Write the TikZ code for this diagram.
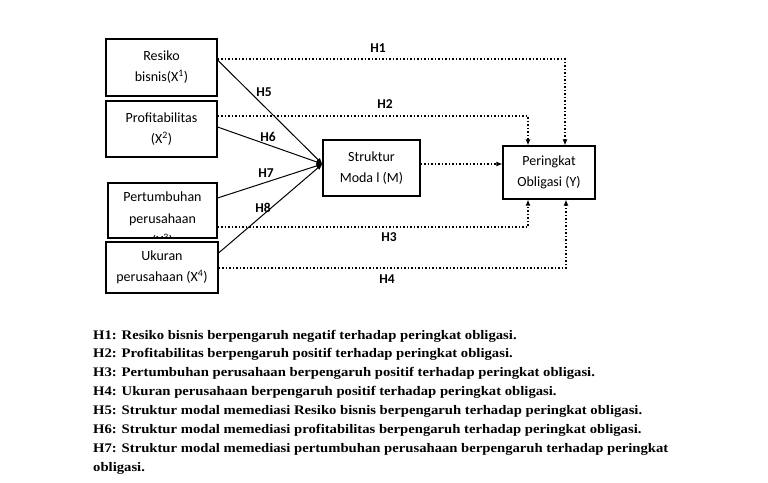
\documentclass[tikz,border=0pt]{standalone}
\usepackage{fontspec}
\setmainfont{Carlito}
\newfontfamily\capfont[FakeStretch=1.12]{Liberation Serif}
\usetikzlibrary{arrows.meta,calc}
\begin{document}
\begin{tikzpicture}[x=1pt,y=-1pt,
  box/.style={draw,line width=1.1pt,inner sep=0pt,align=center,font=\fontsize{14}{21}\selectfont},
  sline/.style={line width=1pt},
  dline/.style={line width=1.5pt,dotted},
  tip/.style={-{Latex[length=6pt,width=5pt]}},
  hlab/.style={font=\fontsize{13.5}{15}\selectfont\bfseries},
  captxt/.style={anchor=base west,inner sep=0pt,font=\capfont\bfseries\fontsize{13.1}{15}\selectfont}]
\useasboundingbox (0,0) rectangle (768,482);
% boxes
\node[box,minimum width=111pt,minimum height=57pt] (r1) at (161.5,67.5) {Resiko\\bisnis(X\textsuperscript{1})};
\node[box,minimum width=111pt,minimum height=56pt] (r2) at (161.5,129) {Profitabilitas\\(X\textsuperscript{2})};
\node[box,minimum width=109pt,minimum height=55pt] (r3) at (162.5,210.5) {};
\begin{scope}
\clip (r3.north west) rectangle (r3.south east);
\node[align=center,inner sep=0pt,font=\fontsize{14}{22}\selectfont,anchor=north] (r3t) at (162.5,192) {Pertumbuhan\\perusahaan\\(X\textsuperscript{3})};
\end{scope}
\node[box,minimum width=112pt,minimum height=51pt] (r4) at (162,267.5) {Ukuran\\perusahaan (X\textsuperscript{4})};
\node[box,minimum width=97pt,minimum height=56pt] (sm) at (371.5,168) {Struktur\\Moda l (M)};
\node[box,minimum width=92pt,minimum height=53pt] (py) at (549,172.5) {Peringkat\\Obligasi (Y)};
% convergence point
\coordinate (cp) at (sm.west |- 0,164);
\draw[sline,tip] (r1.east |- 0,60) -- (cp);
\draw[sline,tip] (r2.east |- 0,127) -- (cp);
\draw[sline,tip] (r3.east |- 0,198) -- (cp);
\draw[sline,tip] (r4.east |- 0,253) -- (cp);
% dotted paths
\draw[dline,tip] (r1.east |- 0,59) -| (py.north -| 565,0);
\draw[dline,tip] (r2.east |- 0,116) -| (py.north -| 528,0);
\draw[dline,tip] (r3.east |- 0,227) -| (py.south -| 528,0);
\draw[dline,tip] (r4.east |- 0,268) -| (py.south -| 566,0);
\draw[dline,tip] (sm.east |- 0,164) -- (py.west |- 0,164);
% labels
\node[hlab] (h1) at (378,48) {H1};
\node[hlab] (h2) at (385,104) {H2};
\node[hlab] (h3) at (389,237) {H3};
\node[hlab] (h4) at (387,279) {H4};
\node[hlab] (h5) at (264,92) {H5};
\node[hlab] (h6) at (268,137) {H6};
\node[hlab] (h7) at (266,173) {H7};
\node[hlab] (h8) at (263,208) {H8};
% captions
\node[captxt] (c1) at (93,339) {H1: Resiko bisnis berpengaruh negatif terhadap peringkat obligasi.};
\node[captxt] (c2) at (93,357) {H2: Profitabilitas berpengaruh positif terhadap peringkat obligasi.};
\node[captxt] (c3) at (93,376) {H3: Pertumbuhan perusahaan berpengaruh positif terhadap peringkat obligasi.};
\node[captxt] (c4) at (93,395) {H4: Ukuran perusahaan berpengaruh positif terhadap peringkat obligasi.};
\node[captxt] (c5) at (93,414) {H5: Struktur modal memediasi Resiko bisnis berpengaruh terhadap peringkat obligasi.};
\node[captxt] (c6) at (93,433) {H6: Struktur modal memediasi profitabilitas berpengaruh terhadap peringkat obligasi.};
\node[captxt] (c7) at (93,452) {H7: Struktur modal memediasi pertumbuhan perusahaan berpengaruh terhadap peringkat};
\node[captxt] (c8) at (93,471) {obligasi.};
\end{tikzpicture}
\end{document}
